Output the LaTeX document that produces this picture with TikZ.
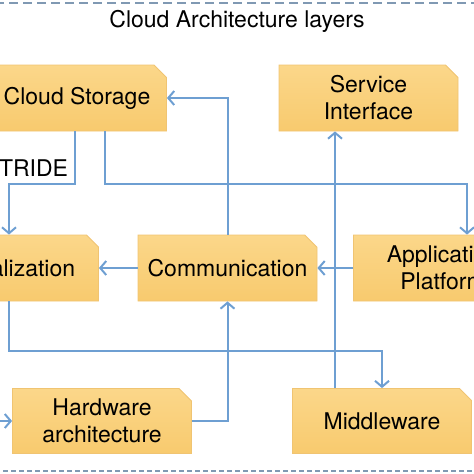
\documentclass[tikz,border=0pt]{standalone}
\usepackage{fontspec}
\setmainfont{TeX Gyre Heros}
\usetikzlibrary{shapes.misc,arrows.meta}
\definecolor{boxtop}{HTML}{FBD78A}
\definecolor{boxbot}{HTML}{F8CA6E}
\definecolor{boxline}{HTML}{F0C472}
\definecolor{flow}{HTML}{6E9FD2}
\definecolor{frame}{HTML}{8099B3}
\tikzset{
  layer/.style={chamfered rectangle, chamfered rectangle corners=north east,
    chamfered rectangle xsep=9pt, draw=boxline, line width=0.8pt,
    top color=boxtop, bottom color=boxbot, minimum width=179pt,
    minimum height=66pt, inner sep=0pt, align=center, text=black,
    font=\fontsize{23}{27}\selectfont},
  flowline/.style={->, draw=flow, line width=2pt},
}
\begin{document}
\begin{tikzpicture}[x=1pt,y=-1pt,>={Straight Barb[length=6pt,width=14pt]}]
\useasboundingbox (0,0) rectangle (474,474);

\draw [frame, line width=1.8pt, dash pattern=on 9pt off 5pt] (-5,3) -- (480,3);
\draw [frame, line width=1.8pt, dash pattern=on 5pt off 3pt] (-5,471) -- (480,471);
\node (title) [font=\fontsize{23}{27}\selectfont] at (237,21) {Cloud Architecture layers};

% layers
\node [layer] (storage) at (77,98) {Cloud Storage};
\node [layer] (service) at (368.5,98) {Service\\Interface};
\node [layer] (virt) at (9,268) {Virtualization};
\node [layer] (comm) at (227.5,268) {Communication};
\node [layer] (app) at (443,268) {Application\\Platform};
\node [layer, minimum height=65pt] (hw) at (102,421) {Hardware\\architecture};
\node [layer, minimum height=65pt] (mw) at (382,421) {Middleware};

% flows
\draw [flowline] (comm.north) |- (storage.east);
\draw [flowline] ([xshift=-2pt]storage.south) -- ++(0,53)
  node [above left, inner sep=6pt, font=\fontsize{23}{27}\selectfont] (stride) {STRIDE}
  -| (virt.north);
\draw [flowline] ([xshift=28pt]storage.south) -- ++(0,53) -| ([xshift=24pt]app.north);
\draw [flowline] ([xshift=-47pt]mw.north) -- ([xshift=-47pt]mw.north |- service.south);
\draw [flowline] (comm.west) -- (virt.east);
\draw [flowline] (app.west) -- (comm.east);
\draw [flowline] (virt.south) -- ++(0,50) -| (mw.north);
\draw [flowline] (hw.east) -| (comm.south);
\coordinate (hwin) at (-20,421);
\draw [flowline] (hwin) -- (hw.west);

\end{tikzpicture}
\end{document}
